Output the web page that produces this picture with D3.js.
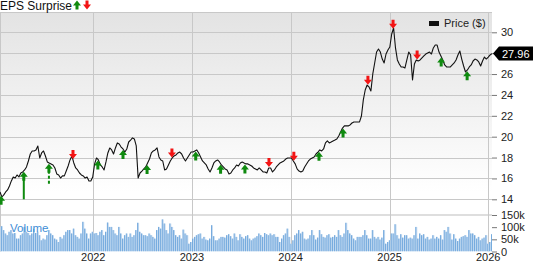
<!DOCTYPE html>
<html><head><meta charset="utf-8">
<script src="https://cdn.jsdelivr.net/npm/d3@7"></script>
<style>
body{margin:0;background:#fff;}
svg{display:block;font-family:"Liberation Sans",Arial,Helvetica,sans-serif;}
</style>
</head><body>
<svg id="c" width="533" height="262"></svg>
<script>
// ---------- data ----------
const startDate = "2021-01-21";
const stepDays = 7; // weekly
const prices = [
14.70,14.22,14.42,14.70,14.90,15.28,15.76,16.14,16.04,16.33,
16.14,16.52,16.62,16.81,17.10,17.67,18.34,18.63,18.63,18.73,
19.11,17.96,18.44,18.63,18.15,17.58,17.48,17.39,17.29,17.00,
16.43,16.33,16.04,16.24,16.24,16.71,17.19,17.77,18.15,17.48,
17.00,16.81,16.52,16.33,16.24,16.04,16.14,15.76,15.76,16.14,
17.39,17.96,17.77,17.29,17.10,16.81,17.58,18.44,18.92,18.73,
18.34,18.92,19.40,19.30,19.01,18.82,18.53,18.82,19.49,19.68,
19.88,19.78,19.11,16.04,16.52,16.71,16.91,17.10,17.48,17.86,
18.44,18.63,18.73,18.92,18.06,17.77,17.67,16.81,16.91,17.29,
17.67,17.96,18.15,18.25,18.44,18.53,18.34,17.96,17.67,17.96,
18.25,18.53,18.53,18.63,18.73,18.44,18.06,17.67,17.48,17.29,
16.91,16.62,17.00,17.48,17.67,17.77,17.58,17.29,17.10,16.91,
16.81,16.43,16.52,16.81,17.00,17.29,17.19,17.48,17.58,17.48,
17.39,17.39,17.29,17.19,17.00,16.91,16.81,17.00,16.81,16.62,
16.62,16.52,17.00,17.00,16.62,16.81,17.10,17.29,17.48,17.58,
17.67,17.86,17.96,17.96,17.96,17.67,17.39,16.91,16.71,16.62,
16.71,17.10,17.39,17.67,17.86,17.96,18.06,18.34,18.53,18.73,
18.63,18.82,19.40,19.59,19.40,19.49,19.59,19.68,19.78,20.07,
20.45,20.83,21.03,21.03,21.03,21.12,21.31,21.41,21.41,21.41,
21.41,21.98,23.52,24.47,24.95,24.76,24.38,26.01,27.06,28.11,
28.40,28.11,27.44,27.06,27.92,28.30,28.59,29.84,30.41,28.50,
27.35,26.96,26.68,26.68,26.58,27.35,28.11,27.83,25.43,26.96,
27.35,27.25,27.35,27.54,27.73,27.92,28.02,28.11,27.92,28.50,
28.78,28.78,28.11,27.73,27.35,26.87,26.68,26.68,26.68,26.87,
27.06,27.35,27.83,28.21,27.44,26.77,26.20,26.39,26.68,26.87,
27.25,27.44,27.35,27.16,26.77,27.25,27.63,27.44,27.63,27.83,
27.96];
const volumes = [ // thousands of shares
101,104,88,74,67,81,88,74,76,53,53,67,74,101,81,76,67,74,94,76,
81,67,46,53,49,67,88,74,67,53,49,39,60,53,67,81,88,88,74,94,
67,60,53,74,122,94,74,53,74,81,74,76,67,81,88,67,81,119,101,101,
88,74,67,101,74,53,67,74,60,74,60,67,88,118,81,74,67,67,63,74,
67,60,53,88,101,94,132,115,88,74,115,101,88,67,60,
67,53,90,74,67,32,39,53,60,67,71,74,53,60,49,46,53,108,63,46,
46,53,60,60,57,67,71,63,53,74,60,46,71,60,53,63,67,53,46,53,
57,63,74,67,60,76,71,67,74,67,71,60,60,39,53,67,74,94,60,32,
46,67,74,88,74,81,53,49,53,67,88,67,49,57,88,71,60,57,67,71,
57,60,67,60,88,67,60,74,118,88,74,67,53,46,60,
60,60,67,88,67,53,53,88,60,53,60,49,57,88,32,39,46,74,74,112,
67,53,71,57,67,67,53,57,53,67,101,53,74,67,71,53,60,49,53,67,
53,60,53,67,49,88,81,101,74,49,71,53,43,53,60,63,67,60,88,74,
74,67,53,60,46,53,57,67,32,39,71];
const epsDates = ["2021-01-25","2021-04-19","2021-07-21","2021-10-18","2022-01-18",
  "2022-04-21","2022-07-19","2022-10-19","2023-01-15","2023-04-17","2023-07-16",
  "2023-10-13","2024-01-13","2024-04-15","2024-07-13","2024-10-13","2025-01-14",
  "2025-04-13","2025-07-11","2025-10-15"];
const epsTypes = ["beat","beat","beat","miss","beat","beat","beat","miss","beat","beat",
  "beat","miss","miss","beat","beat","miss","miss","miss","beat","beat"];
const epsStemTo = [null,14.0,15.4,null,null,null,null,null,null,null,
  null,null,null,null,null,null,null,null,null,null];
const epsStemDashed = [false,false,true,false,false,false,false,false,false,false,
  false,false,false,false,false,false,false,false,false,false];
const priceTicks = [14,16,18,20,22,24,26,28,30];
const priceTickLabels = ["14","16","18","20","22","24","26","","30"]; // 28 hidden behind price tag
const volumeTicks = [0,50,100,150];
const volumeTickLabels = ["0","50k","100k","150k"];
const yearTicks = ["2022","2023","2024","2025","2026"];
const lastPriceLabel = "27.96";
const titleText = "EPS Surprise";
const legendText = "Price ($)";
const volumeText = "Volume";

// ---------- setup ----------
const parse = d3.timeParse("%Y-%m-%d");
const t0 = parse(startDate);
const priceData = prices.map((p,i)=>({date:d3.timeDay.offset(t0,i*stepDays),p}));
const volData = volumes.map((v,i)=>({date:d3.timeDay.offset(t0,i*stepDays),v}));
const tEnd = priceData[priceData.length-1].date;

const L=0,R=492,T=12,B=251.5;
const svg = d3.select("#c");
const x = d3.scaleTime().domain([t0,tEnd]).range([L,R]);
const y = d3.scaleLinear().domain([14,30]).range([199.3,32.3]);
const yv = d3.scaleLinear().domain([0,150]).range([B,215]);

const GRID="#c8c8c8";
const defs = svg.append("defs");
const grad = defs.append("linearGradient").attr("id","bg").attr("x1",0).attr("y1",0).attr("x2",0).attr("y2",1);
grad.append("stop").attr("offset","0").attr("stop-color","#e3e3e3");
grad.append("stop").attr("offset","0.75").attr("stop-color","#ffffff");
defs.append("clipPath").attr("id","clip").append("rect").attr("x",L).attr("y",T).attr("width",R-L).attr("height",B-T);

svg.append("rect").attr("x",L).attr("y",T).attr("width",R-L).attr("height",B-T).attr("fill","url(#bg)");

// gridlines
const g = svg.append("g");
g.selectAll(".hg").data(priceTicks).join("line")
  .attr("x1",L).attr("x2",R).attr("y1",d=>Math.round(y(d))+0.5).attr("y2",d=>Math.round(y(d))+0.5)
  .attr("stroke",GRID).attr("stroke-width",1);
g.append("line").attr("x1",L).attr("x2",R).attr("y1",yv(150)).attr("y2",yv(150))
  .attr("stroke","#dedede").attr("stroke-width",2);
const yearDates = yearTicks.map(s=>parse(s+"-01-01"));
g.selectAll(".vg").data(yearDates).join("line")
  .attr("x1",d=>Math.round(x(d))+0.5).attr("x2",d=>Math.round(x(d))+0.5).attr("y1",T).attr("y2",B)
  .attr("stroke",GRID).attr("stroke-width",1);
g.append("line").attr("x1",L+0.5).attr("x2",L+0.5).attr("y1",T).attr("y2",B).attr("stroke",GRID);
g.append("line").attr("x1",L).attr("x2",R).attr("y1",T+0.5).attr("y2",T+0.5).attr("stroke",GRID);

// volume bars
const vb = svg.append("g").attr("clip-path","url(#clip)");
const step = x(volData[1].date)-x(volData[0].date);
vb.selectAll(".vl").data(volData).join("rect")
  .attr("x",d=>x(d.date)-step/2).attr("width",step).attr("y",d=>yv(d.v)).attr("height",d=>B-yv(d.v))
  .attr("fill","#c2d9f0");
vb.selectAll(".vd").data(volData).join("rect")
  .attr("x",d=>x(d.date)-step/2).attr("width",0.9).attr("y",d=>yv(d.v)).attr("height",d=>B-yv(d.v))
  .attr("fill","#6ea6dc");
svg.append("text").attr("x",10).attr("y",232).attr("font-size",11.5).attr("fill","#3f8ed6").text(volumeText);

// price line
svg.append("path").datum(priceData).attr("clip-path","url(#clip)")
  .attr("d",d3.line().x(d=>x(d.date)).y(d=>y(d.p)))
  .attr("fill","none").attr("stroke","#111").attr("stroke-width",1.1).attr("stroke-linejoin","round");

// arrows
function arrowPath(cx,tip,up){
  const s = up?1:-1;
  return `M${cx},${tip}L${cx+4},${tip+5*s}L${cx+1.5},${tip+5*s}L${cx+1.5},${tip+9*s}L${cx-1.5},${tip+9*s}L${cx-1.5},${tip+5*s}L${cx-4},${tip+5*s}Z`;
}
const bis = d3.bisector(d=>d.date).left;
function priceAt(dt){
  const i = Math.max(1,Math.min(priceData.length-1,bis(priceData,dt)));
  const a=priceData[i-1], b=priceData[i];
  const t=(dt-a.date)/(b.date-a.date);
  return a.p+(b.p-a.p)*t;
}
const GREEN="#0f8a0f", RED="#f21414";
const ag = svg.append("g");
epsDates.forEach((ds,i)=>{
  const dt=parse(ds), cx=x(dt), py=y(priceAt(dt));
  const up = epsTypes[i]==="beat";
  if(up){
    if(epsStemTo[i]!=null){
      ag.append("line").attr("x1",cx).attr("x2",cx).attr("y1",py+8).attr("y2",y(epsStemTo[i]))
        .attr("stroke",GREEN).attr("stroke-width",2)
        .attr("stroke-dasharray",epsStemDashed[i]?"3,2":null);
    }
    ag.append("path").attr("d",arrowPath(cx,py+1,true)).attr("fill",GREEN);
  } else {
    ag.append("path").attr("d",arrowPath(cx,py-1,false)).attr("fill",RED);
  }
});

// title
svg.append("text").attr("x",0).attr("y",10).attr("font-size",12).attr("fill","#111").text(titleText);
svg.append("path").attr("d",arrowPath(77,0.5,true)).attr("fill",GREEN);
svg.append("path").attr("d",arrowPath(87,9.5,false)).attr("fill",RED);

// legend
svg.append("rect").attr("x",429).attr("y",21).attr("width",10).attr("height",5).attr("fill","#111");
svg.append("text").attr("x",444).attr("y",27).attr("font-size",11).attr("fill","#222").text(legendText);

// right axes
const pa = svg.append("g").attr("transform",`translate(${R},0)`)
  .call(d3.axisRight(y).tickValues(priceTicks).tickSize(5).tickPadding(4).tickFormat((d,i)=>priceTickLabels[i]));
const va = svg.append("g").attr("transform",`translate(${R},0)`)
  .call(d3.axisRight(yv).tickValues(volumeTicks).tickSize(5).tickPadding(4).tickFormat((d,i)=>volumeTickLabels[i]));
[pa,va].forEach(a=>{
  a.select(".domain").remove();
  a.selectAll("line").attr("stroke","#777");
  a.selectAll("text").attr("font-size",11).attr("fill","#222").attr("font-family","Liberation Sans, Arial, sans-serif");
});

// x axis labels
svg.selectAll(".xl").data(yearDates).join("text")
  .attr("x",d=>x(d)).attr("y",261).attr("text-anchor","middle").attr("font-size",11).attr("fill","#222")
  .text((d,i)=>yearTicks[i]);

// last price tag
const ly = y(prices[prices.length-1]);
svg.append("path").attr("d",`M${R+1},${ly}L${R+7},${ly-7}L533,${ly-7}L533,${ly+7}L${R+7},${ly+7}Z`).attr("fill","#000");
svg.append("text").attr("x",502).attr("y",ly).attr("dy","0.36em").attr("font-size",11).attr("fill","#fff").text(lastPriceLabel);
</script>
</body></html>
